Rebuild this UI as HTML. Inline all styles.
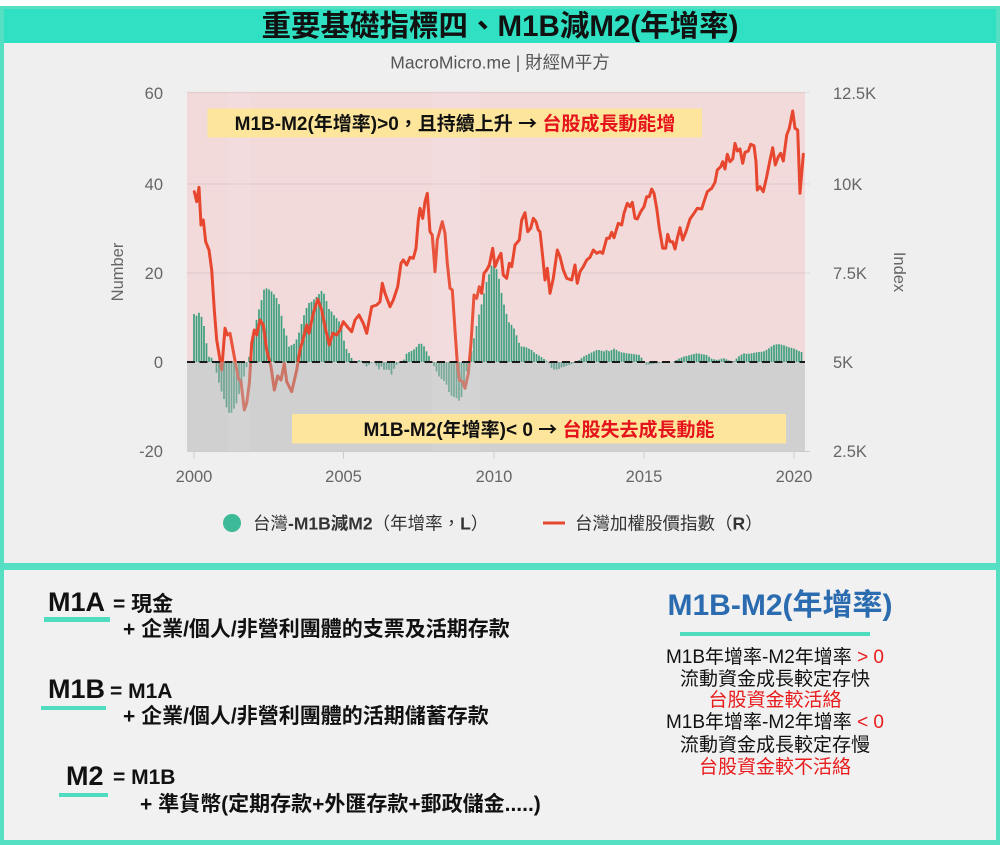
<!DOCTYPE html>
<html>
<head>
<meta charset="utf-8">
<style>
  html,body{margin:0;padding:0;}
  body{width:1000px;height:845px;position:relative;overflow:hidden;background:#ffffff;
       font-family:"Liberation Sans","Noto Sans CJK TC",sans-serif;}
  .abs{position:absolute;white-space:nowrap;}
  .frame{left:0;top:6px;width:1000px;height:839px;background:#55e0c4;}
  .titlebar{left:4px;top:9px;width:992px;height:34px;background:#2fe0c2;}
  .panel1{left:4px;top:43px;width:992px;height:520px;background:#efefef;}
  .panel2{left:4px;top:570px;width:992px;height:270px;background:#f1f1f1;}
  .big{font-size:27px;line-height:27px;font-weight:bold;color:#111;}
  .eq{font-size:21px;line-height:21px;font-weight:bold;color:#111;}
  .desc{font-size:21px;line-height:21px;font-weight:bold;color:#111;}
  .ul{background:#4fdcbf;}
  .rt{left:575px;width:400px;text-align:center;font-size:19px;line-height:19px;color:#111;}
  .red{color:#e81c1c;}
</style>
</head>
<body>
<div class="abs frame"></div>
<div class="abs titlebar"></div>
<div class="abs panel1"></div>
<div class="abs panel2"></div>

<svg class="abs" style="left:0;top:0" width="1000" height="845" viewBox="0 0 1000 845" xmlns="http://www.w3.org/2000/svg">
  <!-- title -->
  <text x="500" y="36" text-anchor="middle" font-family="Liberation Sans, Noto Sans CJK TC, sans-serif" font-size="29.5" font-weight="bold" fill="#111">重要基礎指標四、M1B減M2(年增率)</text>
  <text x="500" y="68.5" text-anchor="middle" font-family="Liberation Sans, Noto Sans CJK TC, sans-serif" font-size="17.5" fill="#555">MacroMicro.me | 財經M平方</text>

  <!-- plot backgrounds -->
  <rect x="187" y="92" width="618" height="270" fill="#f2dadb"/>
  <rect x="187" y="362" width="618" height="89" fill="#efefef"/>

  <!-- grid lines -->
  <g stroke="#000" stroke-opacity="0.06" stroke-width="1.5">
    <line x1="187" y1="92.5" x2="810" y2="92.5"/>
    <line x1="187" y1="184" x2="810" y2="184"/>
    <line x1="187" y1="273" x2="810" y2="273"/>
  </g>

  <!-- bars -->
  <g id="bars" fill="#3c9f7f"></g>

  <!-- red line -->
  <polyline fill="none" stroke="#e8472f" stroke-width="3" stroke-linejoin="round" stroke-linecap="round" points="
194.3,191.7 196.7,201.7 199,187.3 201,225 203.3,220 205.7,241.7 209,250 211.7,270 214.3,310 216.7,340 221.7,370 225,328.3 227.3,335 230,333.3 234.3,356.7 238.3,378.3 241,381.7 244.3,410 246.7,403.3 249.3,383.3 251.7,343.3 254.3,330 256.7,335 260,320 263.3,325 266.7,350 271,366.7 274.3,390 277.7,376 281,380 284.3,363.3 286.7,381.7 291.7,391.7 296.7,370 300,350 303.3,338.3 306.7,325 309,333.3 313.3,313.3 317.7,299.3 321.7,310 325,326.7 329.3,345 332.7,333.3 336.7,335 340,330 343.3,321.7 347.3,326.7 351.7,331.7 355,320 359,315 363.3,323.3 366.7,333.3 371.7,306.7 376.7,305 380,301.7 382.3,283.3 385,293.3 390,306.7 393.3,300 397.7,286.7 401,263.3 403.3,260 406.7,265 410,257.3 413.3,258.3 416,248.3 418.3,220 420,208.3 422.7,218.3 425,201.7 427.3,193.3 430,231.7 432.3,235 435,271.7 437.3,240 440,230 442.3,221.7 445,233.3 447.3,263.3 450,288.3 452.3,290 455,330 457.3,363.3 459.3,380 462.7,381.7 465,388.3 468.3,373.3 471,343.3 474,295 476.7,298.3 479.3,286.7 481.7,293.3 484,273.3 486.7,270 489.3,265 492.7,248.3 495,266.7 498.3,258.3 501,253.3 503.3,275 506.7,278.3 509.3,263.3 511.7,266.7 515,245 519.3,240 521.7,220 525,212.7 527.7,231.7 530.7,228.3 533.3,218.3 536,221.7 538.3,230 540,231.7 542.7,256.7 545,280 547.3,268.3 550,293.3 553.3,278.3 557.3,250 560,256.7 563.3,270 566.7,278.3 571.7,280 575,265 577.3,283.3 580,271.7 583.3,266.7 586.7,260 590,257.3 593.3,250 596.7,253.3 600,251.7 602.7,253.3 606.7,238.3 609.3,238.3 611.7,232.3 614,237.7 618.3,223.3 621.7,225 624,213.3 627.3,203.3 630,206.7 632.3,202.3 635,218.3 637.3,219 640.7,211.7 644,206.7 646.7,196.7 649.3,196.7 651.7,189 654,193.3 656.7,208.3 659.3,228.3 662.7,248.3 665.7,248.3 667.7,234.3 670,241.7 672.7,241.7 675,249 677.3,238.3 680,227.7 682.7,240 686,231.7 690,219 694,213.3 697.3,208.3 701.7,209 704,201.7 707.3,191.7 711.7,188.3 715,182.3 717.3,170 720.7,166.7 722.7,161.7 725,169 727.3,154.3 730,161.7 732.7,159 735,143.3 737.3,151 740,149 742.7,163.3 745,152.3 748.3,151 750.7,144.3 754,145.7 756,161.7 757.3,190 760,186.7 763.3,191.7 766.7,176.7 770,160 772.7,147.7 775.3,165 778.3,156.7 780.7,153.3 783.3,161 786.7,135 789.3,128.3 792.7,111 795,128.3 797.7,130 800,193.3 803.3,154.3"/>

  <!-- gray overlay below zero -->
  <rect x="187" y="362" width="618" height="89" fill="#aaaaaa" fill-opacity="0.45"/>

  <!-- recession bands -->
  <rect x="228" y="92" width="22" height="359" fill="#ffffff" fill-opacity="0.07"/>
  <rect x="432" y="92" width="48" height="359" fill="#ffffff" fill-opacity="0.07"/>

  <!-- zero dashed line -->
  <line x1="187" y1="362" x2="805" y2="362" stroke="#1a1a1a" stroke-width="2" stroke-dasharray="8,4.5"/>

  <!-- x axis -->
  <line x1="187" y1="451.5" x2="810" y2="451.5" stroke="#cccccc" stroke-width="1"/>
  <g stroke="#cccccc" stroke-width="1">
    <line x1="194" y1="451" x2="194" y2="459"/>
    <line x1="343.5" y1="451" x2="343.5" y2="459"/>
    <line x1="494" y1="451" x2="494" y2="459"/>
    <line x1="644" y1="451" x2="644" y2="459"/>
    <line x1="794" y1="451" x2="794" y2="459"/>
  </g>

  <!-- annotation boxes -->
  <rect x="207.5" y="108.5" width="494.5" height="29" fill="#fde69c"/>
  <text x="455" y="130" text-anchor="middle" font-family="Liberation Sans, Noto Sans CJK TC, sans-serif" font-size="19" font-weight="bold" fill="#111">M1B-M2(年增率)&gt;0，且持續上升 <tspan font-family="Noto Sans CJK TC, sans-serif">→</tspan> <tspan fill="#e5141c">台股成長動能增</tspan></text>
  <rect x="292" y="414" width="494" height="29.5" fill="#fde69c"/>
  <text x="539" y="436" text-anchor="middle" font-family="Liberation Sans, Noto Sans CJK TC, sans-serif" font-size="19" font-weight="bold" fill="#111">M1B-M2(年增率)&lt; 0 <tspan font-family="Noto Sans CJK TC, sans-serif">→</tspan> <tspan fill="#e5141c">台股失去成長動能</tspan></text>

  <!-- axis labels -->
  <g font-family="Liberation Sans, sans-serif" font-size="16.5" fill="#666">
    <text x="163" y="99" text-anchor="end">60</text>
    <text x="163" y="190" text-anchor="end">40</text>
    <text x="163" y="279" text-anchor="end">20</text>
    <text x="163" y="368" text-anchor="end">0</text>
    <text x="163" y="457" text-anchor="end">-20</text>
    <text x="833" y="99">12.5K</text>
    <text x="833" y="190">10K</text>
    <text x="833" y="279">7.5K</text>
    <text x="833" y="368">5K</text>
    <text x="833" y="457">2.5K</text>
    <text x="194" y="482" text-anchor="middle">2000</text>
    <text x="343.5" y="482" text-anchor="middle">2005</text>
    <text x="494" y="482" text-anchor="middle">2010</text>
    <text x="644" y="482" text-anchor="middle">2015</text>
    <text x="794" y="482" text-anchor="middle">2020</text>
    <text x="123" y="272" text-anchor="middle" transform="rotate(-90 123 272)">Number</text>
    <text x="894" y="272" text-anchor="middle" transform="rotate(90 894 272)">Index</text>
  </g>

  <!-- legend -->
  <circle cx="232" cy="523" r="9" fill="#3cb996"/>
  <text x="253" y="529.5" font-family="Liberation Sans, Noto Sans CJK TC, sans-serif" font-size="17.5" fill="#333">台灣<tspan font-weight="bold">-M1B減M2</tspan>（年增率，<tspan font-weight="bold">L</tspan>）</text>
  <line x1="543" y1="523" x2="565" y2="523" stroke="#e8472f" stroke-width="3"/>
  <text x="575" y="529.5" font-family="Liberation Sans, Noto Sans CJK TC, sans-serif" font-size="17.5" fill="#333">台灣加權股價指數（<tspan font-weight="bold">R</tspan>）</text>
</svg>

<!-- bottom-left definitions -->
<div class="abs big" style="left:48px;top:589px;">M1A</div>
<div class="abs eq" style="left:113px;top:593.5px;">= 現金</div>
<div class="abs ul" style="left:44px;top:617px;width:66px;height:5px;"></div>
<div class="abs desc" style="left:123px;top:618.5px;">+ 企業/個人/非營利團體的支票及活期存款</div>

<div class="abs big" style="left:48px;top:676px;">M1B</div>
<div class="abs eq" style="left:110px;top:680.5px;">= M1A</div>
<div class="abs ul" style="left:41px;top:706px;width:65px;height:4px;"></div>
<div class="abs desc" style="left:123px;top:705.5px;">+ 企業/個人/非營利團體的活期儲蓄存款</div>

<div class="abs big" style="left:66px;top:762.5px;">M2</div>
<div class="abs eq" style="left:113px;top:766.5px;">= M1B</div>
<div class="abs ul" style="left:59px;top:793px;width:49px;height:4px;"></div>
<div class="abs desc" style="left:140px;top:793.5px;">+ 準貨幣(定期存款+外匯存款+郵政儲金.....)</div>

<!-- bottom-right -->
<div class="abs" style="left:580px;width:400px;text-align:center;top:591px;font-size:30px;line-height:30px;font-weight:bold;color:#2b6cb0;">M1B-M2(年增率)</div>
<div class="abs ul" style="left:680px;top:632px;width:190px;height:4px;"></div>
<div class="abs rt" style="top:647.5px;">M1B年增率-M2年增率 <span class="red">&gt; 0</span></div>
<div class="abs rt" style="top:669.5px;">流動資金成長較定存快</div>
<div class="abs rt red" style="top:690.5px;">台股資金較活絡</div>
<div class="abs rt" style="top:712.5px;">M1B年增率-M2年增率 <span class="red">&lt; 0</span></div>
<div class="abs rt" style="top:735.5px;">流動資金成長較定存慢</div>
<div class="abs rt red" style="top:757.5px;">台股資金較不活絡</div>

<script>
(function(){
  var K=[[194,314],[197,316],[199.5,312],[202,318],[205,330],[206.7,345],[209,356.7],[212,358],[214.5,364],[217.7,378],[221,390],[224.3,400],[226.7,408],[230,415],[233.3,410],[236.7,403],[239.3,393],[242.3,383],[245.7,370],[248,362],[251.7,343],[255,326.7],[258.3,311.7],[261,303],[263.3,290],[266.7,288.3],[270,290],[273.3,293.3],[276.7,298.3],[280,306.7],[283.3,326.7],[286,333.3],[289,346.7],[291.7,345],[295,343.3],[298.3,335],[301.7,323.3],[305,311.7],[308.3,303.3],[311.7,301.7],[315,298.3],[318.3,295],[321.7,290.7],[325,295],[328.3,308.3],[331.7,311.7],[335,316.7],[338.3,320],[341.7,326.7],[345,346.7],[348.3,351.7],[351.7,358.3],[355,362],[358.3,360],[361.7,361],[366.7,366.7],[371,363],[375,362],[378.3,370],[382,366],[385,371.7],[388,368],[391.7,375],[395,366],[400,362],[403,362],[406.7,353.3],[410,351.7],[413.3,350],[416.7,346.7],[420,342.7],[423.3,345],[426.7,351.7],[429.3,356.7],[432,362],[435,368.3],[437.3,373.3],[440,378.3],[443.3,380],[446.7,385],[450,395],[453.3,396.7],[456.7,398.3],[460,401.7],[462.7,393.3],[465,376.7],[468,366],[470.7,355],[474,338.3],[476.7,325],[480,310],[482.7,300],[486,283.3],[488.3,276.7],[491.7,265],[494,258.3],[496.7,270],[499.3,280],[502.7,300],[506,311.7],[508.3,321.7],[511.7,325],[515,330],[518.3,341.7],[521.7,346.7],[525,346.7],[528.3,348.3],[531.7,350],[535,353.3],[538.3,355],[541.7,357.3],[545,359.7],[548.3,362],[551.7,368.3],[555,370],[558.3,369.3],[561.7,367.3],[565,366.7],[568.3,365],[571.7,364],[575,362.7],[580,359.3],[583.3,356.7],[586.7,355],[590,353.3],[593.3,351.7],[596.7,350],[600,350],[603.3,351.7],[606.7,350],[610,351.7],[613.3,348.3],[616.7,350],[620,352],[626.7,353.3],[633,354],[640,355],[644,362],[646.7,365],[652,364],[660,363],[666,362],[673.3,362],[678,359],[683.3,356.7],[690,355],[696.7,353.3],[701,354],[706.7,355],[712,359],[718,360],[723.3,358],[728,360],[733,362],[738,357],[743.3,353.3],[748,354],[753,353],[758,352],[763.3,351.7],[768,349],[773.3,345],[778,344],[783.3,345],[788,347],[793.3,348.3],[797,350],[800,351.7],[802,352]];
  function f(x){
    if(x<=K[0][0]) return K[0][1];
    for(var i=1;i<K.length;i++){
      if(x<=K[i][0]){var a=K[i-1],b=K[i];var t=(x-a[0])/(b[0]-a[0]);return a[1]+t*(b[1]-a[1]);}
    }
    return K[K.length-1][1];
  }
  var g=document.getElementById('bars');
  var ns='http://www.w3.org/2000/svg';
  for(var i=0;i<=243;i++){
    var x=194+2.5*i;
    var y=f(x);
    var h=Math.abs(362-y);
    if(h<0.4) continue;
    var r=document.createElementNS(ns,'rect');
    r.setAttribute('x',(x-0.85).toFixed(2));
    r.setAttribute('y',Math.min(y,362).toFixed(2));
    r.setAttribute('width','1.7');
    r.setAttribute('height',h.toFixed(2));
    g.appendChild(r);
  }
})();
</script>
</body>
</html>
